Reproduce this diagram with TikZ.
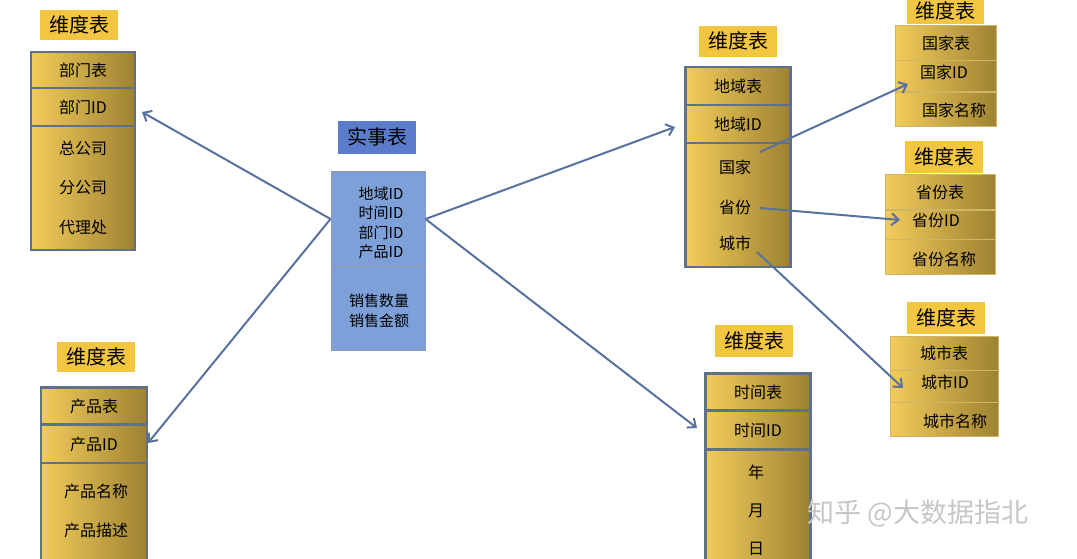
\documentclass[tikz,border=0pt]{standalone}
\usepackage{fontspec}
\setmainfont{Noto Sans CJK SC}
\usetikzlibrary{arrows.meta}
\definecolor{gold1}{HTML}{F2CC5A}
\definecolor{gold2}{HTML}{9E8232}
\definecolor{frame}{HTML}{5E7189}
\definecolor{arr}{HTML}{5872A0}
\definecolor{titley}{HTML}{F2C641}
\definecolor{fblue}{HTML}{7EA0D8}
\definecolor{tblue}{HTML}{5A7CCB}
\tikzset{
 cell/.style={draw=frame, line width=2.5pt, left color=gold1, right color=gold2, inner sep=0pt, font=\fontsize{16}{18}\selectfont},
 lcell/.style={draw=gold1!70!gray, line width=1pt, left color=gold1, right color=gold2, inner sep=0pt, font=\fontsize{16}{18}\selectfont},
 ttl/.style={fill=titley, inner sep=0pt, font=\fontsize{20}{22}\selectfont},
 txt/.style={inner sep=1pt, font=\fontsize{16}{18}\selectfont},
 con/.style={draw=arr, line width=2pt, -{Straight Barb[length=7pt,width=12pt]}},
}
\begin{document}
\begin{tikzpicture}[x=1pt,y=-1pt]
\useasboundingbox (0,0) rectangle (1077,558);
% dept
\node[ttl, minimum width=78pt, minimum height=30pt] (tdept) at (79,25) {维度表};
\node[cell, minimum width=104pt, minimum height=36pt] (d1) at (83,70) {部门表};
\node[cell, minimum width=104pt, minimum height=38pt] (d2) at (83,107) {部门ID};
\node[cell, minimum width=104pt, minimum height=124pt] (d3) at (83,188) {};
\node[txt] (d31) at (83,148) {总公司};
\node[txt] (d32) at (83,188) {分公司};
\node[txt] (d33) at (83,227) {代理处};
% product
\node[ttl, minimum width=78pt, minimum height=30pt] (tprod) at (96,357) {维度表};
\node[cell, minimum width=106pt, minimum height=37pt] (p1) at (94,406) {产品表};
\node[cell, minimum width=106pt, minimum height=38pt] (p2) at (94,444) {产品ID};
\node[cell, minimum width=106pt, minimum height=110pt] (p3) at (94,518) {};
\node[txt] (p31) at (96,491) {产品名称};
\node[txt] (p32) at (96,530) {产品描述};
% fact
\node[fill=tblue, inner sep=0pt, minimum width=78pt, minimum height=33pt, font=\fontsize{20}{22}\selectfont] (tfact) at (377,137) {实事表};
\node[draw=frame!70, line width=1pt, fill=fblue, minimum width=94pt, minimum height=95pt] (f1) at (378,219) {};
\node[draw=frame!70, line width=1pt, fill=fblue, minimum width=94pt, minimum height=84pt] (f2) at (378,308) {};
\node[txt, align=center, font=\fontsize{15}{19.5}\selectfont] (f1t) at (381,223) {地域ID\\时间ID\\部门ID\\产品ID};
\node[txt, align=center, font=\fontsize{15}{20}\selectfont] (f2t) at (379,311) {销售数量\\销售金额};
% region
\node[ttl, minimum width=78pt, minimum height=31pt] (treg) at (738,41) {维度表};
\node[cell, minimum width=105pt, minimum height=38pt] (r1) at (738,86) {地域表};
\node[cell, minimum width=105pt, minimum height=38pt] (r2) at (738,124) {地域ID};
\node[cell, minimum width=105pt, minimum height=124pt] (r3) at (738,205) {};
\node[txt] (r31) at (735,167) {国家};
\node[txt] (r32) at (735,207) {省份};
\node[txt] (r33) at (735,243) {城市};
% time
\node[ttl, minimum width=78pt, minimum height=32pt] (ttime) at (754,341) {维度表};
\node[cell, minimum width=105pt, minimum height=37pt] (m1) at (758,392) {时间表};
\node[cell, minimum width=105pt, minimum height=38pt] (m2) at (758,430) {时间ID};
\node[cell, minimum width=105pt, minimum height=115pt] (m3) at (758,507) {};
\node[txt] (m31) at (756,472) {年};
\node[txt] (m32) at (756,511) {月};
\node[txt] (m33) at (756,549) {日};
% country
\node[ttl, minimum width=77pt, minimum height=26pt] (tcty) at (945,11) {维度表};
\node[lcell, minimum width=101pt, minimum height=35pt] (c1) at (946,43) {国家表};
\node[lcell, minimum width=101pt, minimum height=31pt] (c2) at (946,76) {};
\node[txt] at (944,72) {国家ID};
\node[lcell, minimum width=101pt, minimum height=34pt] (c3) at (946,109) {};
\node[txt] at (954,110) {国家名称};
% province
\node[ttl, minimum width=78pt, minimum height=32pt] (tprv) at (944,157) {维度表};
\node[lcell, minimum width=110pt, minimum height=35pt] (v1) at (940,192) {省份表};
\node[lcell, minimum width=110pt, minimum height=30pt] (v2) at (940,225) {};
\node[txt] at (936,220) {省份ID};
\node[lcell, minimum width=110pt, minimum height=35pt] (v3) at (940,257) {};
\node[txt] at (944,259) {省份名称};
% city
\node[ttl, minimum width=78pt, minimum height=32pt] (tcity) at (946,318) {维度表};
\node[lcell, minimum width=108pt, minimum height=34pt] (y1) at (944,353) {城市表};
\node[lcell, minimum width=108pt, minimum height=32pt] (y2) at (944,386) {};
\node[txt] at (945,382) {城市ID};
\node[lcell, minimum width=108pt, minimum height=34pt] (y3) at (944,419) {};
\node[txt] at (955,421) {城市名称};
% watermark
\node[text=gray!45, font=\fontsize{27}{29}\selectfont] (wm) at (918,513) {知乎 @大数据指北};
% connectors
\coordinate (a1) at (142,112);
\coordinate (a2) at (148,443);
\coordinate (a3) at (675,127);
\coordinate (a4) at (697,428);
\coordinate (a5) at (908,84);
\coordinate (a6) at (900,220);
\coordinate (a7) at (903,388);
\coordinate (s5) at (760,152);
\coordinate (s6) at (760,208);
\coordinate (s7) at (757,252);
\draw[con] (f1.west) -- (a1);
\draw[con] (f1.west) -- (a2);
\draw[con] (f1.east) -- (a3);
\draw[con] (f1.east) -- (a4);
\draw[con] (s5) -- (a5);
\draw[con] (s6) -- (a6);
\draw[con] (s7) -- (a7);
\end{tikzpicture}
\end{document}
